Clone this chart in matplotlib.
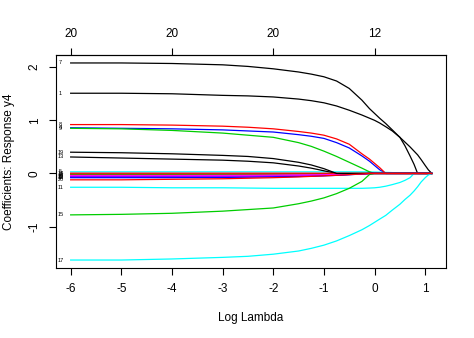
import matplotlib
matplotlib.use("Agg")
import matplotlib.pyplot as plt

plt.rcParams['font.family'] = ['Liberation Sans', 'DejaVu Sans']

# log(lambda) grid at which coefficient values were read
log_lambda = [-6.0, -5.0, -4.0, -3.0, -2.5, -2.0, -1.5, -1.25, -1.0, -0.75, -0.5, -0.25, -0.1,
              0.0, 0.1, 0.22, 0.35, 0.5, 0.6, 0.7, 0.78, 0.85, 0.92, 1.0, 1.06, 1.13]

b1  = [1.51, 1.51, 1.50, 1.47, 1.46, 1.44, 1.40, 1.37, 1.33, 1.27, 1.19, 1.10, 1.04,
       1.00, 0.95, 0.88, 0.80, 0.68, 0.59, 0.50, 0.42, 0.35, 0.26, 0.15, 0.07, 0.0]
b2  = [-0.02, -0.02, -0.02, -0.02, -0.018, -0.016, -0.013, -0.011, -0.009, -0.007, -0.004, -0.002, 0.0] + [0.0] * 13
b3  = [-0.01, -0.01, -0.01, -0.01, -0.009, -0.008, -0.006, -0.005, -0.004, -0.003, -0.002, -0.001, 0.0] + [0.0] * 13
b4  = [0.86, 0.85, 0.84, 0.82, 0.80, 0.78, 0.73, 0.70, 0.66, 0.58, 0.48, 0.33, 0.23,
       0.15, 0.07, 0.0] + [0.0] * 10
b5  = [0.03, 0.03, 0.03, 0.03, 0.03, 0.03, 0.03, 0.03, 0.03, 0.03, 0.03, 0.03, 0.028,
       0.026, 0.024, 0.02, 0.016, 0.01, 0.005, 0.0] + [0.0] * 6
b6  = [-0.05, -0.05, -0.05, -0.045, -0.043, -0.04, -0.035, -0.032, -0.028, -0.022, -0.015, -0.007, 0.0] + [0.0] * 13
b7  = [2.08, 2.08, 2.07, 2.045, 2.015, 1.97, 1.91, 1.87, 1.82, 1.74, 1.60, 1.38, 1.22,
       1.13, 1.04, 0.94, 0.82, 0.68, 0.52, 0.33, 0.17, 0.0] + [0.0] * 4
b8  = [0.92, 0.92, 0.91, 0.89, 0.87, 0.84, 0.79, 0.76, 0.72, 0.65, 0.55, 0.37, 0.27,
       0.19, 0.11, 0.0] + [0.0] * 10
b9  = [0.85, 0.84, 0.81, 0.76, 0.72, 0.68, 0.58, 0.51, 0.42, 0.32, 0.21, 0.10, 0.03,
       0.0] + [0.0] * 12
b10 = [-0.06, -0.06, -0.06, -0.055, -0.052, -0.048, -0.042, -0.038, -0.033, -0.026, -0.018, -0.008, 0.0] + [0.0] * 13
b11 = [-0.26, -0.26, -0.27, -0.27, -0.275, -0.28, -0.28, -0.28, -0.28, -0.28, -0.28, -0.28, -0.275,
       -0.27, -0.26, -0.24, -0.21, -0.17, -0.13, -0.08, 0.0] + [0.0] * 5
b12 = [-0.07, -0.07, -0.07, -0.065, -0.06, -0.055, -0.048, -0.044, -0.038, -0.03, -0.02, -0.01, 0.0] + [0.0] * 13
b13 = [0.31, 0.29, 0.27, 0.25, 0.23, 0.20, 0.14, 0.10, 0.05, 0.0] + [0.0] * 16
b14 = [0.005, 0.005, 0.005, 0.005, 0.005, 0.005, 0.005, 0.005, 0.004, 0.003, 0.002, 0.001, 0.0] + [0.0] * 13
b15 = [-0.78, -0.77, -0.75, -0.71, -0.68, -0.65, -0.57, -0.52, -0.46, -0.38, -0.28, -0.15, -0.02,
       0.0] + [0.0] * 12
b16 = [-0.08, -0.08, -0.08, -0.075, -0.07, -0.065, -0.057, -0.052, -0.045, -0.036, -0.024, -0.011, 0.0] + [0.0] * 13
b17 = [-1.63, -1.63, -1.61, -1.58, -1.56, -1.52, -1.46, -1.41, -1.35, -1.27, -1.17, -1.06, -0.98,
       -0.92, -0.86, -0.79, -0.69, -0.58, -0.49, -0.41, -0.33, -0.25, -0.16, -0.08, -0.03, 0.0]
b18 = [-0.04, -0.04, -0.04, -0.038, -0.036, -0.033, -0.029, -0.026, -0.023, -0.018, -0.012, -0.006, 0.0] + [0.0] * 13
b19 = [0.40, 0.39, 0.37, 0.34, 0.32, 0.28, 0.21, 0.16, 0.09, 0.0] + [0.0] * 16
b20 = [-0.12, -0.12, -0.11, -0.10, -0.09, -0.08, -0.065, -0.055, -0.045, -0.035, -0.022, -0.01, 0.0] + [0.0] * 13

coefs = [b1, b2, b3, b4, b5, b6, b7, b8, b9, b10, b11, b12, b13, b14, b15, b16, b17, b18, b19, b20]
var_labels = [str(i + 1) for i in range(len(coefs))]

bottom_ticks = [-6, -5, -4, -3, -2, -1, 0, 1]
top_ticks = [-6, -4, -2, 0]
top_labels = ["20", "20", "20", "12"]
y_ticks = [-1, 0, 1, 2]

palette = ['#000000', '#FF0000', '#00CD00', '#0000FF', '#00FFFF', '#FF00FF']

fig = plt.figure(figsize=(4.74, 3.38), dpi=100)
ax = fig.add_axes([0.1181, 0.2071, 0.8228, 0.6302])

for i, c in enumerate(coefs):
    ax.plot(log_lambda, c, color=palette[i % 6], lw=0.9, solid_joinstyle='round')

for i, c in enumerate(coefs):
    ax.text(log_lambda[0] - 0.2, c[0], var_labels[i], fontsize=4.0, ha='center', va='center')

ax.set_xlim(-6.29, 1.41)
ax.set_ylim(-1.78, 2.23)

ax.set_xticks(bottom_ticks)
ax.set_xticklabels([str(t) for t in bottom_ticks])
ax.set_yticks(y_ticks)
ax.set_yticklabels([str(t) for t in y_ticks], rotation=90, va='center')
ax.tick_params(axis='both', direction='out', length=5, width=0.8, labelsize=8.5, pad=6)

for s in ax.spines.values():
    s.set_linewidth(0.8)

ax2 = ax.secondary_xaxis('top')
ax2.set_xticks(top_ticks)
ax2.set_xticklabels(top_labels)
ax2.tick_params(direction='out', length=5, width=0.8, labelsize=8.5, pad=6)

ax.set_xlabel("Log Lambda", fontsize=8.5, labelpad=12)
ax.set_ylabel("Coefficients: Response y4", fontsize=8.5, labelpad=10)

fig.savefig("out.png", dpi=100)
